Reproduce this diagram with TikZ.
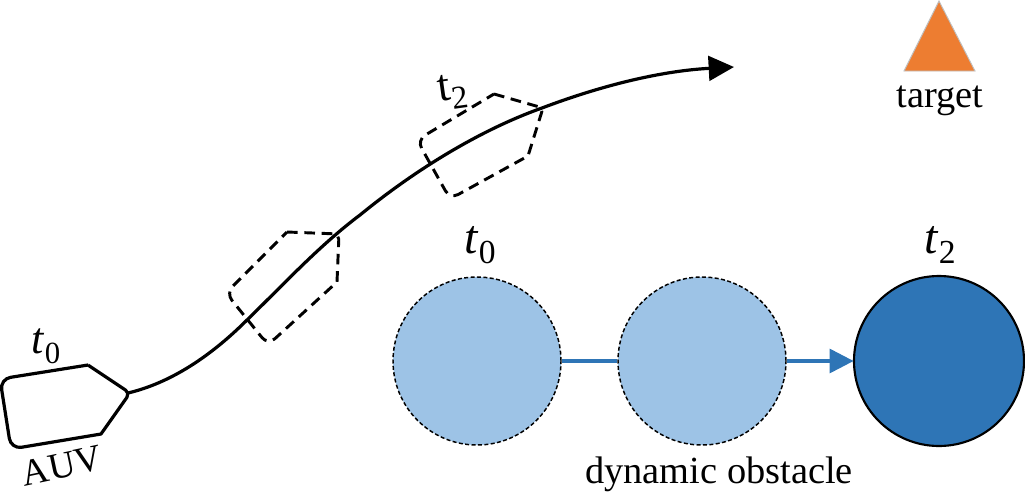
\documentclass[tikz,border=0pt]{standalone}
\usepackage{fontspec}
\setmainfont{Liberation Serif}
\usetikzlibrary{arrows.meta}
\definecolor{obslight}{HTML}{9DC3E6}
\definecolor{obsdark}{HTML}{2E75B6}
\definecolor{tgt}{HTML}{ED7D31}
\newcommand{\tsubi}[1]{\textit{t}\raisebox{-.22em}{\fontsize{.7em}{1em}\selectfont #1}}
\newcommand{\tsubu}[1]{t\raisebox{-.22em}{\fontsize{.72em}{1em}\selectfont #1}}
\tikzset{
  hull/.style={draw=black,line width=2.4pt,line join=round},
  ghost/.style={draw=black,line width=2.2pt,dash pattern=on 8pt off 5pt,line join=round},
  track/.style={draw=black,line width=2.4pt,-{Triangle[length=19pt,width=18.5pt]}},
  obs/.style={circle,inner sep=0pt,minimum size=126pt,draw=black},
  ghostobs/.style={obs,fill=obslight,line width=1.1pt,dash pattern=on 3pt off 1.8pt},
  realobs/.style={obs,fill=obsdark,line width=1.6pt},
  link/.style={draw=obsdark,line width=2.4pt},
  linkarrow/.style={link,-{Triangle[length=18pt,width=18pt]},shorten >=-.5pt},
  lab/.style={inner sep=0pt,font=\fontsize{28.8pt}{30pt}\selectfont},
  biglab/.style={inner sep=0pt,font=\fontsize{36pt}{38pt}\selectfont},
  midlab/.style={inner sep=0pt,font=\fontsize{34pt}{36pt}\selectfont},
}
\begin{document}
\begin{tikzpicture}[x=.75pt,y=-.75pt]
\useasboundingbox (0,0) rectangle (1025,497);
% target
\fill[tgt,draw=gray!50,line width=.7pt] (939,1) -- (975,71) -- (904,71) -- cycle;
\node[lab] (targetlabel) at (940,101) {target};
% track
\coordinate (nose) at (128,393);
\coordinate (tip) at (734,67);
\draw[track] (nose) .. controls (170,383) and (210,357) .. (247,320)
  .. controls (285,283) and (320,245) .. (360,215)
  .. controls (415,170) and (480,130) .. (542,108)
  .. controls (600,86) and (660,71) .. (tip);
% AUV
\draw[hull] (88,365) [rounded corners=4pt] -- (130,393) [sharp corners] -- (101,434)
  [rounded corners=8pt] -- (11,449) -- (0,379) [sharp corners] -- (88,365);
\node[midlab,font=\fontsize{33pt}{35pt}\selectfont] (t0a) at (46,346) {\tsubi{0}};
\node[lab,font=\fontsize{28pt}{30pt}\selectfont,rotate=12] (auv) at (62,466) {AUV};
% ghost hulls
\draw[ghost] (287,232) [rounded corners=4pt] -- (339,234) [sharp corners] -- (337,282)
  [rounded corners=7pt] -- (268,345) -- (226,293) [sharp corners] -- (287,232);
\draw[ghost] (494,94) [rounded corners=3pt] -- (543,108) [sharp corners] -- (528,156)
  [rounded corners=7pt] -- (450,199) -- (417,140) [sharp corners] -- (494,94);
\node[midlab,rotate=8] (t2a) at (453,92) {\tsubu{2}};
% obstacles
\node[ghostobs] (c0) at (477,361) {};
\node[ghostobs] (c1) at (702,361) {};
\node[realobs,minimum size=127.5pt] (c2) at (939,361) {};
\draw[link] (c0) -- (c1);
\draw[linkarrow] (c1) -- (c2);
\node[biglab] (t0b) at (480,245) {\tsubi{0}};
\node[biglab] (t2b) at (940,245) {\tsubi{2}};
\node[lab] (dyn) at (719,474) {dynamic obstacle};
\end{tikzpicture}
\end{document}
